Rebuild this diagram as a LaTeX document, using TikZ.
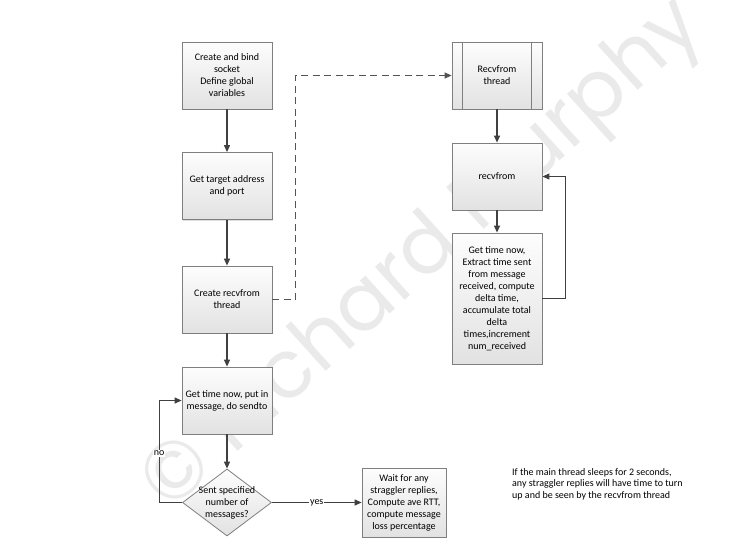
\documentclass[tikz,border=0pt]{standalone}
\usepackage{fontspec}
\setmainfont{Carlito}
\newfontfamily\wmfont{Poppins}
\usetikzlibrary{shapes.geometric,arrows.meta,shadows}
\definecolor{linec}{HTML}{404040}
\definecolor{boxline}{HTML}{7F7F7F}
\definecolor{boxtop}{HTML}{FDFDFD}
\definecolor{boxbot}{HTML}{E2E2E2}
\definecolor{wmc}{HTML}{EAEAEA}
\tikzset{
  boxstyle/.style={draw=boxline, line width=0.8pt, rectangle, top color=boxtop, bottom color=boxbot,
    minimum width=90pt, minimum height=67pt, inner sep=2pt, align=center,
    font=\fontsize{10}{12}\selectfont, text=black,
    drop shadow={shadow xshift=1.2pt, shadow yshift=-1.2pt, fill=gray!50, opacity=0.5}},
  diastyle/.style={draw=boxline, line width=0.8pt, diamond, top color=boxtop, bottom color=boxbot,
    minimum width=89pt, minimum height=67pt, inner sep=0pt, aspect=1.33},
  txtstyle/.style={align=center, font=\fontsize{10}{12}\selectfont, text=black, inner sep=0pt},
  arr/.style={draw=linec, line width=1.2pt, -{Triangle[length=7pt,width=6pt]}},
  dsh/.style={draw=linec!90, line width=1.2pt, dash pattern=on 7pt off 4.5pt, -{Triangle[length=7pt,width=6pt]}},
  lab/.style={fill=white, inner sep=1pt, font=\fontsize{10}{12}\selectfont, text=black},
}
\begin{document}
\begin{tikzpicture}[x=1pt,y=-1pt]
\useasboundingbox (0,0) rectangle (749,557);
\fill[white] (0,0) rectangle (749,557);
% watermark
\node[rotate=42, text=wmc, font=\wmfont\fontsize{81}{81}\selectfont, inner sep=0pt] (wm) at (424,256) {© Richard Murphy};
% left column
\node[boxstyle] (b1) at (227,75.5) {Create and bind\\socket\\Define global\\variables};
\node[boxstyle] (b2) at (227,186) {Get target address\\and port};
\node[boxstyle] (b3) at (227,299.5) {Create recvfrom\\thread};
\node[boxstyle] (b4) at (227,400.5) {Get time now, put in\\message, do sendto};
\node[diastyle] (d) at (227,502.5) {};
\node[txtstyle] (dt) at (d.center) {Sent specified\\number of\\messages?};
\node[boxstyle, minimum width=84pt, minimum height=69pt] (w) at (404,502.5) {Wait for any\\straggler replies,\\Compute ave RTT,\\compute message\\loss percentage};
% right column
\node[boxstyle] (thr) at (497,75.5) {Recvfrom\\thread};
\draw[boxline, line width=0.8pt] ([xshift=11pt]thr.north west) -- ([xshift=11pt]thr.south west);
\draw[boxline, line width=0.8pt] ([xshift=-11pt]thr.north east) -- ([xshift=-11pt]thr.south east);
\node[boxstyle] (rf) at (497,176.5) {recvfrom};
\node[boxstyle, minimum height=131pt] (gt) at (497,298.5) {Get time now,\\Extract time sent\\from message\\received, compute\\delta time,\\accumulate total\\delta\\times,increment\\num\_received};
% note
\node[anchor=north west, align=left, inner sep=0pt, font=\fontsize{10}{11.5}\selectfont] (note) at (512,468) {If the main thread sleeps for 2 seconds,\\any straggler replies will have time to turn\\up and be seen by the recvfrom thread};
% connectors
\draw[arr] (b1) -- (b2);
\draw[arr] (b2) -- (b3);
\draw[arr] (b3) -- (b4);
\draw[arr] (b4) -- (d);
\draw[arr] (d.east) -- node[lab, pos=0.5] {yes} (w.west);
\draw[arr] (d.west) -- ++(-23,0) |- node[lab, pos=0.24] {no} (b4.west);
\draw[dsh] (b3.east) -- ++(23,0) |- (thr.west);
\draw[arr] (thr) -- (rf);
\draw[arr] (rf) -- (gt);
\draw[arr] (gt.east) -- ++(23,0) |- (rf.east);
\end{tikzpicture}
\end{document}
